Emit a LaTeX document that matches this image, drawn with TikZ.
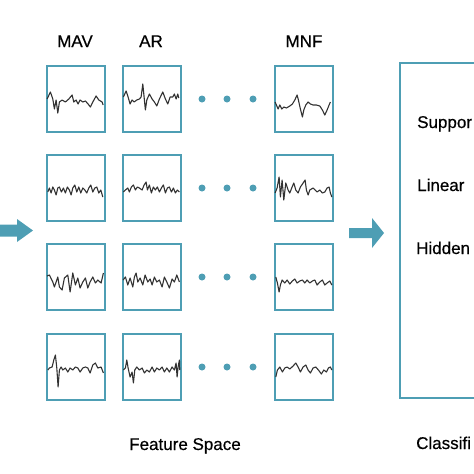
\documentclass[tikz,border=0pt]{standalone}
\usepackage{fontspec}
\setmainfont[FakeBold=0.5]{Liberation Sans}
\definecolor{tealc}{RGB}{78,158,180}
\definecolor{wavec}{RGB}{50,50,50}
\tikzset{
  fbox/.style={draw=tealc, line width=1.8pt, minimum width=58pt, minimum height=66pt, inner sep=0pt},
  dotc/.style={circle, fill=tealc, minimum size=7pt, inner sep=0pt},
  wave/.style={draw=wavec, line width=1.1pt, line join=round},
  lbl/.style={font=\fontsize{17}{20}\selectfont, inner sep=0pt, anchor=base},
  lblw/.style={lbl, anchor=base west},
  blockarrow/.style={fill=tealc},
}
\newcommand\wv[2]{\draw[wave, shift={(#1.west)}] plot coordinates {#2};}
\begin{document}
\begin{tikzpicture}[x=1pt, y=-1pt]
\useasboundingbox (0,0) rectangle (474,474);
\begin{scope}
\clip (0,0) rectangle (474,474);
% column labels
\node[lbl] (lmav) at (75,47) {MAV};
\node[lbl] (lar) at (151,47) {AR};
\node[lbl] (lmnf) at (304,47) {MNF};
% feature boxes
\foreach \r/\y in {1/99,2/188,3/277,4/367}{
  \node[fbox] (b\r1) at (76,\y) {};
  \node[fbox] (b\r2) at (152,\y) {};
  \node[fbox] (b\r3) at (304,\y) {};
  \node[dotc] (d\r1) at (202,\y) {};
  \node[dotc] (d\r2) at (227,\y) {};
  \node[dotc] (d\r3) at (253,\y) {};
}
% waveforms
\wv{b11}{(1,0)(4.3,-7)(6.7,0)(8.3,10)(10,1)(11.7,14)(13.3,3)(16,1)(19.3,3)(22.7,0)(26,-4)(27.7,3)(30,1)(32,5)(34,1)(36.7,3)(39.3,2)(42,5)(44.3,8)(46.7,3)(50,-3)(52.7,1)(56,3)(57,6)}
\wv{b12}{(1.3,-2)(4,-8)(6,-2)(8,5)(10,1)(12,3)(14.7,1)(17.3,0)(19,-2)(20.7,-15)(22,-2)(23.3,11)(24.7,1)(27.3,-5)(30,0)(32.3,3)(34.7,7)(37.3,0)(40.7,-7)(43.3,0)(45.7,5)(48,-2)(50.7,-2)(52.3,-5)(54,0)(55.7,-5)(56.7,-1)}
\wv{b13}{(1,3)(2.3,6)(4,10)(5.7,6)(7.7,10)(9.7,8)(12.3,9)(15.7,7)(18.3,5)(20.7,1)(23,-4)(24.3,1)(26.3,10)(28.3,18)(29.7,11)(31.7,6)(34,3)(36.3,5)(39,6)(42.3,6)(45.7,7)(48.3,11)(50.7,16)(53,11)(55,6)(56.3,3)}
\wv{b21}{(1.7,4)(3.3,0)(5,5)(6.7,-1)(8.3,2)(10,7)(11.7,0)(13.3,-1)(15.3,4)(17.3,0)(19.3,5)(21.3,-1)(23.3,2)(25,7)(26.7,0)(28.7,-3)(30.7,4)(32.7,-1)(34.7,5)(36.7,0)(38.7,2)(40.7,5)(42.7,0)(44.7,-3)(46.7,4)(48.7,0)(50.7,-1)(52.7,5)(54.7,2)(56.7,9)}
\wv{b22}{(1.3,4)(3.3,2)(5.7,0)(7.3,4)(9.3,-1)(11.3,-3)(13.3,2)(15.3,-1)(17.3,0)(20,2)(22,-3)(24,-6)(25.3,2)(27.3,-3)(29.3,5)(31.3,-1)(33.3,2)(35.3,-1)(37.3,4)(39.3,0)(41.3,-3)(43.3,5)(45.3,0)(47.3,-1)(49.3,4)(51.3,0)(53.3,5)(55.3,2)(57.3,4)}
\wv{b23}{(1,5)(3,0)(5,-11)(6.3,9)(8,-8)(9.7,12)(11.7,-5)(14,2)(15.7,5)(18,-1)(19.7,-5)(21.7,2)(24,5)(26.3,-1)(29,-5)(31,-8)(32.3,2)(34,7)(35.7,2)(39,0)(43,4)(45.7,2)(48.3,5)(50.7,4)(53,0)(55,-1)(56.3,5)(57.7,9)}
\wv{b31}{(1,-1)(3.3,-2)(6.7,5)(8.3,10)(11.7,0)(13.3,10)(16,13)(18.3,1)(21.7,-2)(24,15)(26.7,-4)(29.3,8)(31.7,1)(34,11)(36.7,5)(39.3,1)(41.7,11)(44,5)(46.7,0)(49.3,6)(51.7,3)(55,6)(57.3,-4)}
\wv{b32}{(1,3)(3.3,0)(5.7,8)(8,1)(10.7,10)(12.3,0)(14,-4)(15.7,5)(18,1)(20.7,8)(23,-2)(25.7,5)(28,2)(30,8)(32.3,0)(34.7,5)(37.3,3)(40,10)(42.3,0)(44.7,5)(47.3,11)(50,2)(52.3,5)(54.7,-2)(57.3,5)}
\wv{b33}{(1.7,0)(3.3,6)(5,15)(6.3,8)(8,3)(10.7,6)(13,3)(15.7,7)(18.3,4)(20.7,2)(23,6)(25.7,4)(28.3,3)(30.7,6)(33,3)(35.7,6)(38.3,4)(40.7,3)(43,8)(45.7,5)(48.3,3)(50.7,8)(53,6)(55.7,4)(57.7,8)}
\wv{b41}{(1.7,3)(3.3,1)(6,0)(7.7,-7)(9.3,-12)(10.7,1)(12,20)(13.3,3)(15,0)(16.7,3)(19.3,1)(21.7,5)(24,1)(26.7,3)(29.3,0)(31.7,1)(34,5)(36.7,1)(39.3,0)(41.7,1)(44,6)(46.7,-2)(49.3,-4)(51.7,1)(55,0)(57.3,6)}
\wv{b42}{(1.3,3)(3.3,1)(4.7,-7)(6,1)(8,10)(10,5)(11.3,16)(12.7,3)(14.7,0)(17.3,3)(20,1)(22.3,6)(24.7,3)(27.3,5)(30,0)(32.3,5)(34.7,1)(37.3,3)(40,0)(42.3,5)(44.7,1)(47.3,5)(50,0)(52.3,3)(54,-4)(55,10)(56,0)(57.3,-7)(57.7,3)}
\wv{b43}{(1.7,10)(3.3,3)(5.7,0)(8.3,5)(10.7,1)(13,0)(15.7,2)(19,-1)(21.7,-4)(24,0)(26.3,5)(29,0)(31.7,-2)(34,3)(36.3,6)(39,1)(41.7,0)(44.3,3)(47.3,7)(49.7,3)(52.3,5)(54.3,1)(56.3,0)(57.7,3)}
% block arrows
\fill[blockarrow] (0,224.5) -- (17,224.5) -- (17,219) -- (33,230.5) -- (17,242) -- (17,236.5) -- (0,236.5) -- cycle;
\fill[blockarrow] (349,228) -- (372,228) -- (372,218) -- (384,233) -- (372,248) -- (372,238) -- (349,238) -- cycle;
% classifier box
\node[draw=tealc, line width=1.8pt, minimum width=100pt, minimum height=335pt, inner sep=0pt] (cls) at (450,230.5) {};
\node[lblw] (t1) at (417,128) {Suppor};
\node[lblw] (t2) at (417,191) {Linear};
\node[lblw] (t3) at (416,254) {Hidden};
% captions
\node[lbl] (fs) at (185,450) {Feature Space};
\node[lblw] (cl) at (416,449) {Classifi};
\end{scope}
\end{tikzpicture}
\end{document}
